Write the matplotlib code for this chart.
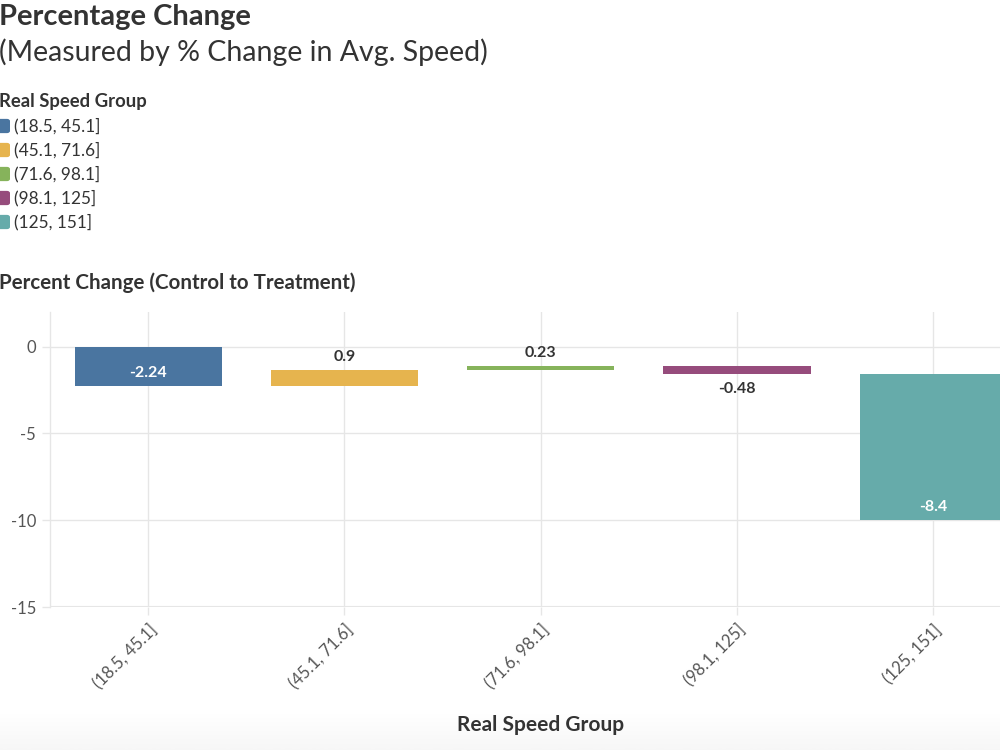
import numpy as np
import matplotlib.pyplot as plt
from matplotlib.patches import FancyBboxPatch

plt.rcParams['font.family'] = ['Lato', 'DejaVu Sans']

# data
groups = ["(18.5, 45.1]", "(45.1, 71.6]", "(71.6, 98.1]", "(98.1, 125]", "(125, 151]"]
changes = [-2.24, 0.9, 0.23, -0.48, -8.4]
colors = ["#4a75a0", "#e6b44e", "#86b35b", "#964c7c", "#66abaa"]
yticks = [0, -5, -10, -15]

text_dark = "#333333"
text_grey = "#555555"
grid_col = "#e6e6e6"

fig = plt.figure(figsize=(10, 7.5), dpi=100)

# bottom shadow strip
grad = fig.add_axes([0, 0, 1, 0.05], zorder=0)
grad.imshow(np.linspace(0, 1, 50).reshape(-1, 1), aspect="auto", cmap="Greys",
            vmin=0, vmax=14, extent=[0, 1, 0, 1])
grad.axis("off")

# titles + legend
fig.text(-0.001, 0.977, "Percentage Change", fontsize=21, fontweight="bold",
         color=text_dark, va="center", ha="left")
fig.text(-0.001, 0.930, "(Measured by % Change in Avg. Speed)", fontsize=20.5,
         color=text_dark, va="center", ha="left")
fig.text(-0.001, 0.865, "Real Speed Group", fontsize=13.3, fontweight="bold",
         color=text_dark, va="center", ha="left")
for i, (g, c) in enumerate(zip(groups, colors)):
    yc = 1 - (126 + 24 * i) / 750
    sw = FancyBboxPatch((-0.006, yc - 0.0095), 0.016, 0.019,
                        boxstyle="round,pad=0,rounding_size=0.003",
                        transform=fig.transFigure, facecolor=c, edgecolor="none")
    fig.patches.append(sw)
    fig.text(0.014, yc, g, fontsize=12.4, color=text_dark, va="center", ha="left")

fig.text(-0.001, 1 - 283 / 750, "Percent Change (Control to Treatment)", fontsize=14.8,
         fontweight="bold", color=text_dark, va="center", ha="left")

ax = fig.add_axes([0.05, 1 - 607 / 750, 0.95, (607 - 312) / 750], zorder=2)
ax.patch.set_alpha(0)

# waterfall
x = np.arange(len(groups))
ends = np.cumsum(changes)
starts = ends - np.array(changes)
bottoms = np.minimum(starts, ends)
heights = np.abs(changes)
ax.bar(x, heights, bottom=bottoms, width=0.75, color=colors, zorder=3)

for xi, s, e, v in zip(x, starts, ends, changes):
    if abs(v) > 1.5:
        ax.text(xi, min(s, e) + 0.75, f"{v:g}", color="white", fontsize=11.5,
                fontweight="bold", ha="center", va="center", zorder=4)
    elif v > 0:
        ax.text(xi, max(s, e) + 0.75, f"{v:g}", color=text_dark, fontsize=11.5,
                fontweight="bold", ha="center", va="center", zorder=4)
    else:
        ax.text(xi, min(s, e) - 0.85, f"{v:g}", color=text_dark, fontsize=11.5,
                fontweight="bold", ha="center", va="center", zorder=4)

ax.set_xlim(-0.5, 4.34)
ax.set_ylim(-15, 2)
ax.set_yticks(yticks)
ax.set_yticklabels([str(t) for t in yticks], fontsize=12, color=text_grey)
ax.set_xticks(x)
ax.set_xticklabels(groups, rotation=45, ha="right", rotation_mode="anchor",
                   fontsize=12, color=text_grey)
ax.tick_params(axis="both", length=6, color=grid_col, width=1, pad=4)
ax.grid(True, color=grid_col, linewidth=1, zorder=0)
for side in ["top", "right", "bottom"]:
    ax.spines[side].set_visible(False)
ax.spines["left"].set_color(grid_col)
ax.spines["left"].set_linewidth(1)
ax.axhline(-15, color=grid_col, linewidth=1.5, zorder=1)
ax.set_axisbelow(True)

ax.set_xlabel("Real Speed Group", fontsize=15, fontweight="bold", color=text_dark)
ax.xaxis.set_label_coords((541 - 50) / 950, 1 - (725 - 312) / 295)
ax.xaxis.label.set_va("center")

fig.savefig("out.png", dpi=100)
